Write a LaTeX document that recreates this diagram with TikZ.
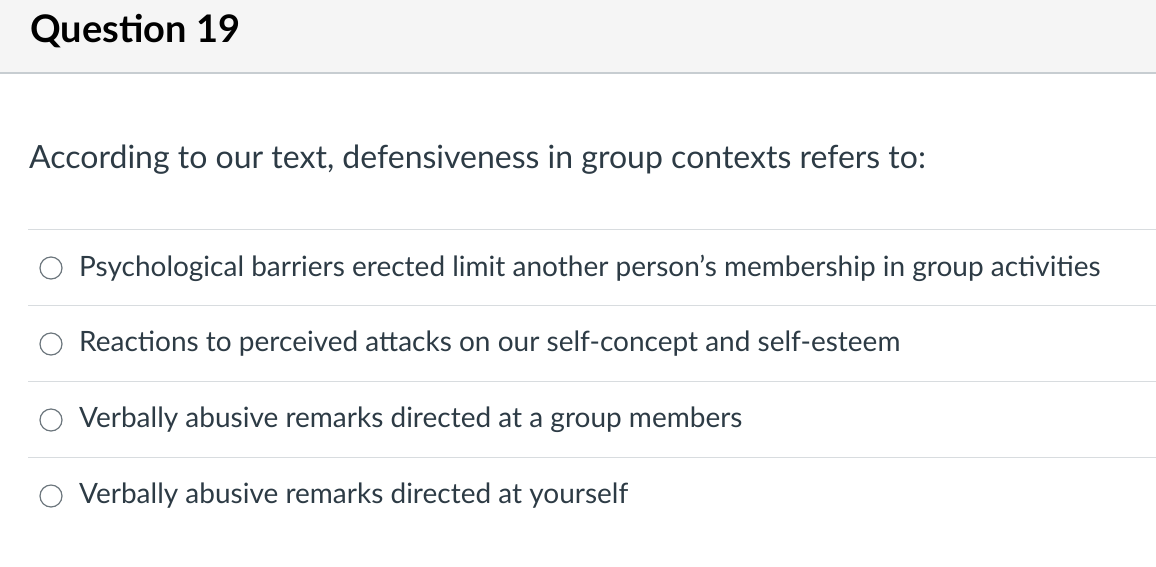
\documentclass[tikz,border=0pt]{standalone}
\usepackage{fontspec}
\setmainfont{Lato}
\definecolor{txt}{HTML}{2D3B45}
\definecolor{hdr}{HTML}{F5F5F5}
\definecolor{sep}{HTML}{C7CDD1}
\begin{document}
\begin{tikzpicture}[x=1pt,y=-1pt,
  opt/.style={anchor=west,text=txt,font=\fontsize{28}{32}\selectfont,inner sep=0},
  radio/.style={circle,draw=txt!70,line width=1.2pt,minimum size=22,inner sep=0}]
\useasboundingbox (0,0) rectangle (1156,566);
\fill[hdr] (0,0) rectangle (1156,73);
\draw[sep,line width=1.5pt] (0,73) -- (1156,73);
\node[anchor=west,text=black,font=\bfseries\fontsize{38}{42}\selectfont,inner sep=0] (title) at (30,31) {Question 19};
\node[anchor=west,text=txt,font=\fontsize{32}{36}\selectfont,inner sep=0] (q) at (29,160) {According to our text, defensiveness in group contexts refers to:};
\foreach \y in {229,305,381,457} \draw[sep!70,line width=1pt] (28,\y) -- (1156,\y);
\node[radio] (r1) at (51,268) {}; \node[opt] (o1) at (79,268) {Psychological barriers erected limit another person’s membership in group activities};
\node[radio] (r2) at (51,344) {}; \node[opt] (o2) at (79,344) {Reactions to perceived attacks on our self-concept and self-esteem};
\node[radio] (r3) at (51,420) {}; \node[opt] (o3) at (79,420) {Verbally abusive remarks directed at a group members};
\node[radio] (r4) at (51,496) {}; \node[opt] (o4) at (79,496) {Verbally abusive remarks directed at yourself};
\end{tikzpicture}
\end{document}
